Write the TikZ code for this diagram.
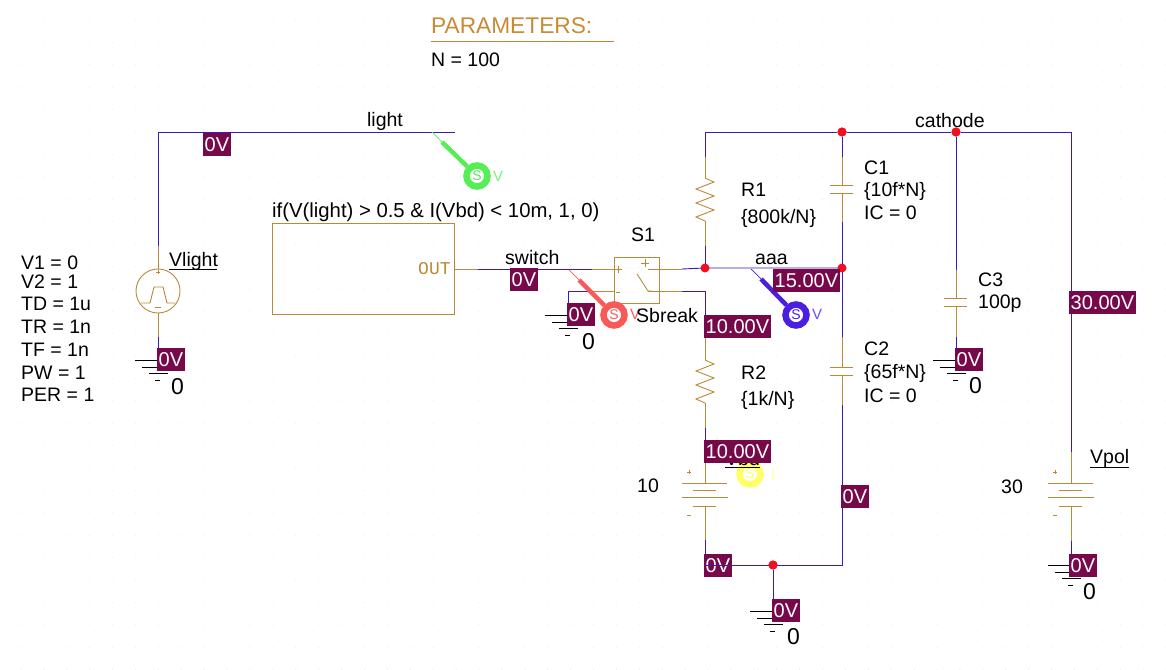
\documentclass[tikz,border=0pt]{standalone}
\usepackage{fontspec}
\setmainfont{Liberation Sans}
\setmonofont{Liberation Mono}
\definecolor{wirecol}{HTML}{3A1BB5}
\definecolor{partcol}{HTML}{B98A38}
\definecolor{paramcol}{HTML}{C98A34}
\definecolor{voltcol}{HTML}{77084A}
\definecolor{dotcol}{HTML}{F40F1E}
\definecolor{griddot}{HTML}{EDEDED}
\definecolor{probeg}{HTML}{55EE55}
\definecolor{prober}{HTML}{F85A5A}
\definecolor{probeb}{HTML}{4A1FE0}
\definecolor{probey}{HTML}{FFFF66}
\tikzset{
  wire/.style={draw=wirecol, line width=0.9pt},
  part/.style={draw=partcol, line width=0.9pt},
  lbl/.style={inner sep=0pt, anchor=west, yshift=-2pt, font=\fontsize{19.5}{21}\selectfont},
  volt/.style={fill=voltcol, text=white, inner xsep=1.5pt, inner ysep=0pt, minimum height=23pt, anchor=north west, font=\fontsize{20}{22}\selectfont},
  junction/.style={circle, fill=dotcol, inner sep=0pt, minimum size=9pt},
  probe/.style={circle, line width=6.5pt, fill=white, inner sep=0pt, minimum size=21pt, font=\fontsize{14}{14}\selectfont},
  gnd/.pic={
    \draw[black, line width=0.9pt] (-23,0) -- (23,0) (-16,7) -- (16,7) (-9,13) -- (10,13) (-3,20) -- (2,20);
  },
  batt/.pic={
    \draw[part] (-23,0) -- (22,0) (-12,7) -- (11,7) (-23,14) -- (23,14) (-12,23) -- (11,23);
    \draw[part] (-18,-11) -- (-14,-11) (-16,-13) -- (-16,-9) (-18,32) -- (-14,32);
  },
  cap/.pic={
    \draw[part] (-12,0) -- (11,0) (-12,8) -- (11,8);
  },
  res/.pic={
    \draw[part] (0,0) -- (9,4) -- (-9,11) -- (9,18) -- (-9,25) -- (9,32) -- (-9,39) -- (0,43);
  }
}
\begin{document}
\begin{tikzpicture}[x=1pt, y=-1pt]
\useasboundingbox (0,0) rectangle (1166,669);
\foreach \i in {1,...,51}
  \foreach \j in {1,...,30}
    \fill[griddot] (\i*22.9-1.9,\j*22.4-2.4) circle (0.6);

\coordinate (lightL) at (158,132);
\coordinate (lightR) at (455,132);
\coordinate (lightS) at (158,246);
\coordinate (srcT) at (158,269);
\coordinate (srcB) at (158,313);
\coordinate (srcS) at (158,337);
\coordinate (gnd1) at (158,360);
\coordinate (swL) at (478,269);
\coordinate (swS) at (592,269);
\coordinate (swT) at (648,269);
\coordinate (swU) at (682,269);
\coordinate (juncA) at (705,268);
\coordinate (juncB) at (842,268);
\coordinate (swB) at (648,291);
\coordinate (swV) at (682,291);
\coordinate (swC) at (705,291);
\coordinate (negA) at (568,315);
\coordinate (negB) at (568,291);
\coordinate (negC) at (592,291);
\coordinate (negD) at (614,291);
\coordinate (r1A) at (705,132);
\coordinate (r1B) at (705,157);
\coordinate (r1T) at (705,178);
\coordinate (r1E) at (705,221);
\coordinate (r1F) at (705,246);
\coordinate (c1A) at (842,157);
\coordinate (c1B) at (842,185);
\coordinate (c1C) at (842,193);
\coordinate (c1D) at (842,222);
\coordinate (c2A) at (842,337);
\coordinate (c2B) at (842,367);
\coordinate (c2C) at (842,375);
\coordinate (c2D) at (842,405);
\coordinate (c3A) at (956,270);
\coordinate (c3B) at (956,298);
\coordinate (c3C) at (956,306);
\coordinate (c3D) at (956,337);
\coordinate (gnd3) at (956,360);
\coordinate (cornerR) at (1071,132);
\coordinate (vpolA) at (1071,452);
\coordinate (vpolB) at (1071,483);
\coordinate (vpolC) at (1071,506);
\coordinate (vpolD) at (1071,541);
\coordinate (gnd4) at (1071,565);
\coordinate (r2A) at (705,337);
\coordinate (r2T) at (705,360);
\coordinate (r2E) at (705,403);
\coordinate (r2F) at (705,428);
\coordinate (v10S) at (705,445);
\coordinate (v10A) at (705,483);
\coordinate (v10B) at (705,506);
\coordinate (v10C) at (705,540);
\coordinate (botL) at (705,565);
\coordinate (botT) at (731,565);
\coordinate (botR) at (842,565);
\coordinate (gnd5) at (773,611);
\coordinate (armA) at (637,274);
\coordinate (armB) at (652,291);

\node (boxif) [part, draw, minimum width=182pt, minimum height=91pt, anchor=north west] at (272,223) {};
\node (boxsw) [part, draw, minimum width=45pt, minimum height=46pt, anchor=north west] at (614,257) {};
\node (src) [part, draw, circle, inner sep=0pt, minimum size=44pt] at (158,291) {};
\node (junc1) [junction] at (842,132) {};
\node (junc2) [junction] at (956,132) {};
\node (junc3) [junction] at (773,565) {};

\draw[wire] (srcS) -- (gnd1);
\draw[wire] (lightS) -- (lightL) -- (lightR);
\draw[part] (lightS) -- (srcT) (srcB) -- (srcS);
\draw[part] (141,303) -- (150,303) -- (154,287) -- (163,287) -- (167,303) -- (175,303);
\draw[part] (156,272) -- (160,272) (158,270) -- (158,274) (155,307) -- (161,307);
\draw[part] (boxif.east |- swL) -- (swL);
\draw[wire] (swL) -- (swS);
\draw[part] (swS) -- (boxsw.west |- swS);
\draw[part] (swT) -- (swU);
\draw[wire] (swU) -- (juncA) -- (juncB);
\draw[part] (swB) -- (swV);
\draw[wire] (swV) -- (swC) -- (r2A);
\draw[wire] (negA) -- (negB) -- (negC);
\draw[part] (negC) -- (negD);
\draw[part] (armA) -- (swB) -- (armB);
\draw[part] (615,269) -- (622,269) (618.5,265.5) -- (618.5,272.5) (641,263) -- (649,263) (645,259) -- (645,267) (616,292) -- (620,292);
\draw[wire] (r1A) -- (r1B);
\draw[part] (r1B) -- (r1T) (r1E) -- (r1F);
\draw[wire] (r1F) -- (juncA);
\pic at (r1T) {res};
\draw[wire] (r1A) -- (junc1) -- (junc2) -- (cornerR) -- (vpolA);
\draw[wire] (junc1) -- (c1A);
\draw[part] (c1A) -- (c1B) (c1C) -- (c1D);
\pic at (c1B) {cap};
\draw[wire] (c1D) -- (juncB) -- (c2A);
\draw[part] (c2A) -- (c2B) (c2C) -- (c2D);
\pic at (c2B) {cap};
\draw[wire] (c2D) -- (botR) -- (botL) -- (v10C);
\draw[wire] (junc2) -- (c3A);
\draw[part] (c3A) -- (c3B) (c3C) -- (c3D);
\pic at (c3B) {cap};
\draw[wire] (c3D) -- (gnd3);
\draw[part] (r2A) -- (r2T) (r2E) -- (r2F);
\pic at (r2T) {res};
\draw[wire] (r2F) -- (v10S);
\draw[part] (v10S) -- (v10A) (v10B) -- (v10C);
\pic at (v10A) {batt};
\draw[part] (vpolA) -- (vpolB) (vpolC) -- (vpolD);
\pic at (vpolB) {batt};
\draw[wire] (vpolD) -- (gnd4);
\draw[wire] (junc3) -- (gnd5);
\node (dotA) [junction] at (juncA) {};
\node (dotB) [junction] at (juncB) {};
\node (dotC) [junction] at (junc1) {};
\node (dotD) [junction] at (junc2) {};
\node (dotE) [junction] at (junc3) {};

\pic at (gnd1) {gnd};
\pic at (negA) {gnd};
\pic at (gnd3) {gnd};
\pic at (gnd4) {gnd};
\pic at (gnd5) {gnd};

\foreach \nm/\col/\tipx/\tipy/\px/\py in {G/probeg/432/132/477/176, R/prober/569/270/614/315, B/probeb/751/269/796/315, Y/probey/716/438/750/474}{
  \coordinate (tip\nm) at (\tipx,\tipy);
  \coordinate (neck\nm) at (\tipx+10,\tipy+10);
  \node (probe\nm) [probe, draw=\col, text=\col] at (\px,\py) {S};
  \draw[\col, line width=0.7pt] (tip\nm) -- (neck\nm);
  \draw[\col, line width=4.5pt] (neck\nm) -- (probe\nm);
}
\node (probeGv) [lbl, text=probeg!80!white, font=\fontsize{15}{15}\selectfont] at (493,174) {V};
\node (probeRv) [lbl, text=prober, font=\fontsize{15}{15}\selectfont] at (630,312) {V};
\node (probeBv) [lbl, text=probeb!80!white, font=\fontsize{15}{15}\selectfont] at (812,312) {V};
\node (probeYv) [lbl, text=probey!60!white, font=\fontsize{15}{15}\selectfont] at (771,473) {I};

\node (params) [lbl, text=paramcol, font=\fontsize{22.7}{24}\selectfont] at (431,24) {PARAMETERS:};
\draw[part] (431,41) -- (614,41);
\node (paramn) [lbl] at (431,58) {N = 100};
\node (light) [lbl, anchor=center] at (385,119) {light};
\node (ifexpr) [lbl, font=\fontsize{20.3}{22}\selectfont] at (272,210) {if(V(light) > 0.5 \& I(Vbd) < 10m, 1, 0)};
\node (out) [lbl, text=partcol, font=\ttfamily\fontsize{18}{20}\selectfont] at (418,267) {OUT};
\node (v1) [lbl] at (21,261) {V1 = 0};
\node (v2) [lbl] at (21,280) {V2 = 1};
\node (td) [lbl] at (21,302) {TD = 1u};
\node (tr) [lbl] at (21,325) {TR = 1n};
\node (tf) [lbl] at (21,348) {TF = 1n};
\node (pw) [lbl] at (21,371) {PW = 1};
\node (per) [lbl] at (21,393) {PER = 1};
\node (vlight) [lbl] at (169,259) {Vlight};
\draw[black, line width=0.9pt] (169,269) -- (217,269);
\node (zeroA) [lbl, font=\fontsize{23}{25}\selectfont] at (171,385) {0};
\node (switch) [lbl] at (505,256) {switch};
\node (sname) [lbl, anchor=center] at (643,233) {S1};
\node (sbreak) [lbl] at (636,314) {Sbreak};
\node (zeroB) [lbl, font=\fontsize{23}{25}\selectfont] at (582,340) {0};
\node (aaa) [lbl] at (755,257) {aaa};
\node (cathode) [lbl] at (915,119) {cathode};
\node (r1) [lbl] at (741,188) {R1};
\node (r1v) [lbl] at (741,216) {\{800k/N\}};
\node (c1) [lbl] at (864,166) {C1};
\node (c1v) [lbl] at (864,189) {\{10f*N\}};
\node (c1i) [lbl] at (864,211) {IC = 0};
\node (c2) [lbl] at (864,347) {C2};
\node (c2v) [lbl] at (864,371) {\{65f*N\}};
\node (c2i) [lbl] at (864,394) {IC = 0};
\node (r2) [lbl] at (741,371) {R2};
\node (r2v) [lbl] at (741,398) {\{1k/N\}};
\node (c3) [lbl] at (978,278) {C3};
\node (c3v) [lbl] at (978,302) {100p};
\node (zeroC) [lbl, font=\fontsize{23}{25}\selectfont] at (969,384) {0};
\node (ten) [lbl] at (637,484) {10};
\node (vbd) [lbl] at (725,457) {Vbd};
\draw[black, line width=0.9pt] (725,467) -- (760,467);
\node (zeroE) [lbl, font=\fontsize{23}{25}\selectfont] at (787,635) {0};
\node (thirty) [lbl] at (1001,485) {30};
\node (vpol) [lbl] at (1090,456) {Vpol};
\draw[black, line width=0.9pt] (1090,467) -- (1129,467);
\node (zeroD) [lbl, font=\fontsize{23}{25}\selectfont] at (1083,590) {0};

\node (vltA) [volt] at (203,133) {0V};
\node (vltB) [volt] at (157,348) {0V};
\node (vltC) [volt] at (510,268) {0V};
\node (vltD) [volt] at (567,303) {0V};
\node (vltE) [volt] at (704,315) {10.00V};
\node (vltF) [volt] at (773,268.5) {15.00V};
\node (vltG) [volt] at (704,440) {10.00V};
\node (vltH) [volt] at (704,554) {0V};
\node (vltI) [volt] at (841,485) {0V};
\node (vltJ) [volt] at (772,599) {0V};
\node (vltK) [volt] at (955,348) {0V};
\node (vltL) [volt] at (1069,291) {30.00V};
\node (vltM) [volt] at (1069,554) {0V};
\draw[wire] (botL) -- (botT);
\end{tikzpicture}
\end{document}
